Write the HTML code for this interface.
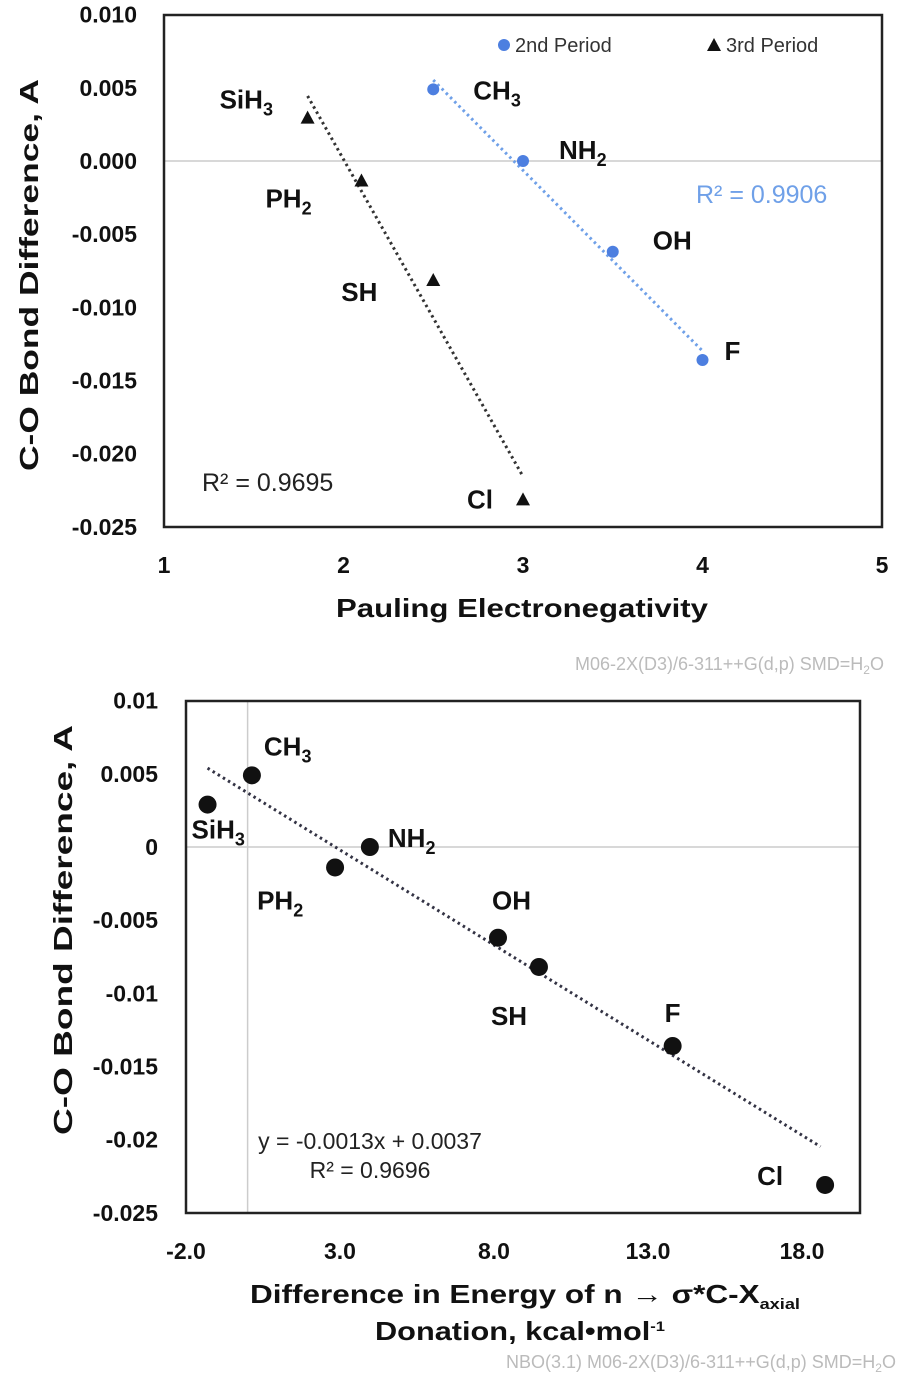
<!DOCTYPE html>
<html><head><meta charset="utf-8"><style>
body{margin:0;background:#fff;}
svg{display:block;font-family:"Liberation Sans",sans-serif;}
.t{font-weight:bold;font-size:23px;fill:#111;}
.lb{font-weight:bold;font-size:26px;fill:#111;}
.ti{font-weight:bold;font-size:26px;fill:#111;}
.ft{font-size:18px;fill:#bbb;}
</style></head><body>
<svg id="s" width="900" height="1380">
<g id="top"></g>
<g id="bot"></g>
</svg>
<script>
const topYTicks=["0.010","0.005","0.000","-0.005","-0.010","-0.015","-0.020","-0.025"];
const topYTickVals=[0.010,0.005,0,-0.005,-0.010,-0.015,-0.020,-0.025];
const topXTicks=[1,2,3,4,5];
const p2Names=["CH3","NH2","OH","F"];
const p2X=[2.5,3.0,3.5,4.0];
const p2Y=[0.0049,0.0,-0.0062,-0.0136];
const p3Names=["SiH3","PH2","SH","Cl"];
const p3X=[1.8,2.1,2.5,3.0];
const p3Y=[0.0029,-0.0014,-0.0082,-0.0232];
const botYTicks=["0.01","0.005","0","-0.005","-0.01","-0.015","-0.02","-0.025"];
const botYTickVals=[0.01,0.005,0,-0.005,-0.01,-0.015,-0.02,-0.025];
const botXTicks=["-2.0","3.0","8.0","13.0","18.0"];
const botXTickVals=[-2,3,8,13,18];
const botNames=["SiH3","CH3","PH2","NH2","OH","SH","F","Cl"];
const botX=[-1.3,0.14,2.84,3.97,8.13,9.46,13.8,18.75];
const botY=[0.0029,0.0049,-0.0014,0.0,-0.0062,-0.0082,-0.0136,-0.0231];

const NS="http://www.w3.org/2000/svg";
function mk(p,tag,at,txt){const e=document.createElementNS(NS,tag);for(const k in at)e.setAttribute(k,at[k]);if(txt!==undefined)e.innerHTML=txt;p.appendChild(e);return e;}
function fit(xs,ys){const n=xs.length,mx=xs.reduce((a,b)=>a+b)/n,my=ys.reduce((a,b)=>a+b)/n;let sxx=0,sxy=0;for(let i=0;i<n;i++){sxx+=(xs[i]-mx)**2;sxy+=(xs[i]-mx)*(ys[i]-my);}const m=sxy/sxx;return [m,my-m*mx];}
function sub(s){return s.replace(/(\d)$/,'<tspan dy="7" font-size="18">$1</tspan>');}

// TOP
const T=document.getElementById('top');
const tx=v=>164+(v-1)*179.5, ty=v=>161-v*14630;
let e;
e=mk(T,'line',{x1:164,x2:882,y1:ty(0),y2:ty(0),stroke:'#ccc','stroke-width':1.5});

e=mk(T,'rect',{x:164,y:15,width:718,height:512,fill:'none',stroke:'#222','stroke-width':2.5});

topYTicks.forEach((s,i)=>{e=mk(T,'text',{x:137,y:ty(topYTickVals[i])+8,'text-anchor':'end',class:'t'},s);
});
topXTicks.forEach(v=>{e=mk(T,'text',{x:tx(v),y:573,'text-anchor':'middle',class:'t'},v);
});
e=mk(T,'text',{x:-196,y:0,transform:'translate(38,275) rotate(-90)',class:'ti',textLength:392,lengthAdjust:'spacingAndGlyphs'},'C-O Bond Difference, A');

e=mk(T,'text',{x:336,y:617,class:'ti',textLength:372,lengthAdjust:'spacingAndGlyphs'},'Pauling Electronegativity');

let f2=fit(p2X,p2Y),f3=fit(p3X,p3Y);
e=mk(T,'line',{x1:tx(2.5),y1:ty(f2[0]*2.5+f2[1]),x2:tx(4),y2:ty(f2[0]*4+f2[1]),stroke:'#6fa0e8','stroke-width':3,'stroke-dasharray':'2.5 3.5'});

e=mk(T,'line',{x1:tx(1.8),y1:ty(f3[0]*1.8+f3[1]),x2:tx(3),y2:ty(f3[0]*3+f3[1]),stroke:'#333','stroke-width':3,'stroke-dasharray':'2.5 3.5'});

const p2Off=[[40,10],[36,-2],[40,-2],[22,0]], p3Off=[[-88,-10],[-96,26],[-92,20],[-56,8]];
p2X.forEach((x,i)=>{e=mk(T,'circle',{cx:tx(x),cy:ty(p2Y[i]),r:6,fill:'#4d7fe0'});

e=mk(T,'text',{x:tx(x)+p2Off[i][0],y:ty(p2Y[i])+p2Off[i][1],class:'lb'},sub(p2Names[i]));
});
p3X.forEach((x,i)=>{const X=tx(x),Y=ty(p3Y[i]);e=mk(T,'polygon',{points:`${X},${Y-8} ${X+7},${Y+5} ${X-7},${Y+5}`,fill:'#111'});

e=mk(T,'text',{x:X+p3Off[i][0],y:Y+p3Off[i][1],class:'lb'},sub(p3Names[i]));
});
e=mk(T,'circle',{cx:504,cy:45,r:6,fill:'#4d7fe0'});
e=mk(T,'text',{x:515,y:52,'font-size':20,fill:'#333'},'2nd Period');
e=mk(T,'polygon',{points:'714,38 721,51 707,51',fill:'#111'});
e=mk(T,'text',{x:726,y:52,'font-size':20,fill:'#333'},'3rd Period');
e=mk(T,'text',{x:696,y:203,'font-size':25,fill:'#6fa0e8'},'R² = 0.9906');
e=mk(T,'text',{x:202,y:491,'font-size':25,fill:'#222'},'R² = 0.9695');
e=mk(T,'text',{x:884,y:670,'text-anchor':'end',class:'ft'},'M06-2X(D3)/6-311++G(d,p) SMD=H<tspan dy="4" font-size="12">2</tspan><tspan dy="-4">O</tspan>');


// BOTTOM
const B=document.getElementById('bot');
const bx=v=>186+(v+2)*30.8, by=v=>847-v*14630;
e=mk(B,'line',{x1:186,x2:860,y1:by(0),y2:by(0),stroke:'#ccc','stroke-width':1.5});

e=mk(B,'line',{x1:bx(0),x2:bx(0),y1:701,y2:1213,stroke:'#ccc','stroke-width':1.5});

e=mk(B,'rect',{x:186,y:701,width:674,height:512,fill:'none',stroke:'#222','stroke-width':2.5});

botYTicks.forEach((s,i)=>{e=mk(B,'text',{x:158,y:by(botYTickVals[i])+8,'text-anchor':'end',class:'t'},s);
});
botXTicks.forEach((s,i)=>{e=mk(B,'text',{x:bx(botXTickVals[i]),y:1259,'text-anchor':'middle',class:'t'},s);
});
e=mk(B,'text',{x:-205,y:0,transform:'translate(72,930) rotate(-90)',class:'ti',textLength:410,lengthAdjust:'spacingAndGlyphs'},'C-O Bond Difference, A');

e=mk(B,'text',{x:250,y:1303,class:'ti',textLength:550,lengthAdjust:'spacingAndGlyphs'},'Difference in Energy of n → σ*C-X<tspan dy="6" font-size="15">axial</tspan>');

e=mk(B,'text',{x:375,y:1340,class:'ti',textLength:290,lengthAdjust:'spacingAndGlyphs'},'Donation, kcal•mol<tspan dy="-9" font-size="14">-1</tspan>');

const slope=-0.0013,icpt=0.0037;
e=mk(B,'line',{x1:bx(-1.3),y1:by(slope*-1.3+icpt),x2:bx(18.6),y2:by(slope*18.6+icpt),stroke:'#334','stroke-width':3,'stroke-dasharray':'2.5 3.5'});

const bOff=[[-16,34],[12,-20],[-78,42],[18,0],[-6,-28],[-48,58],[-8,-24],[-68,0]];
botX.forEach((x,i)=>{e=mk(B,'circle',{cx:bx(x),cy:by(botY[i]),r:9,fill:'#111'});

e=mk(B,'text',{x:bx(x)+bOff[i][0],y:by(botY[i])+bOff[i][1],class:'lb'},sub(botNames[i]));
});
e=mk(B,'text',{x:370,y:1149,'text-anchor':'middle','font-size':23,fill:'#222'},'y = -0.0013x + 0.0037');

e=mk(B,'text',{x:370,y:1178,'text-anchor':'middle','font-size':23,fill:'#222'},'R² = 0.9696');

e=mk(B,'text',{x:896,y:1368,'text-anchor':'end',class:'ft'},'NBO(3.1) M06-2X(D3)/6-311++G(d,p) SMD=H<tspan dy="4" font-size="12">2</tspan><tspan dy="-4">O</tspan>');

</script>
</body></html>
